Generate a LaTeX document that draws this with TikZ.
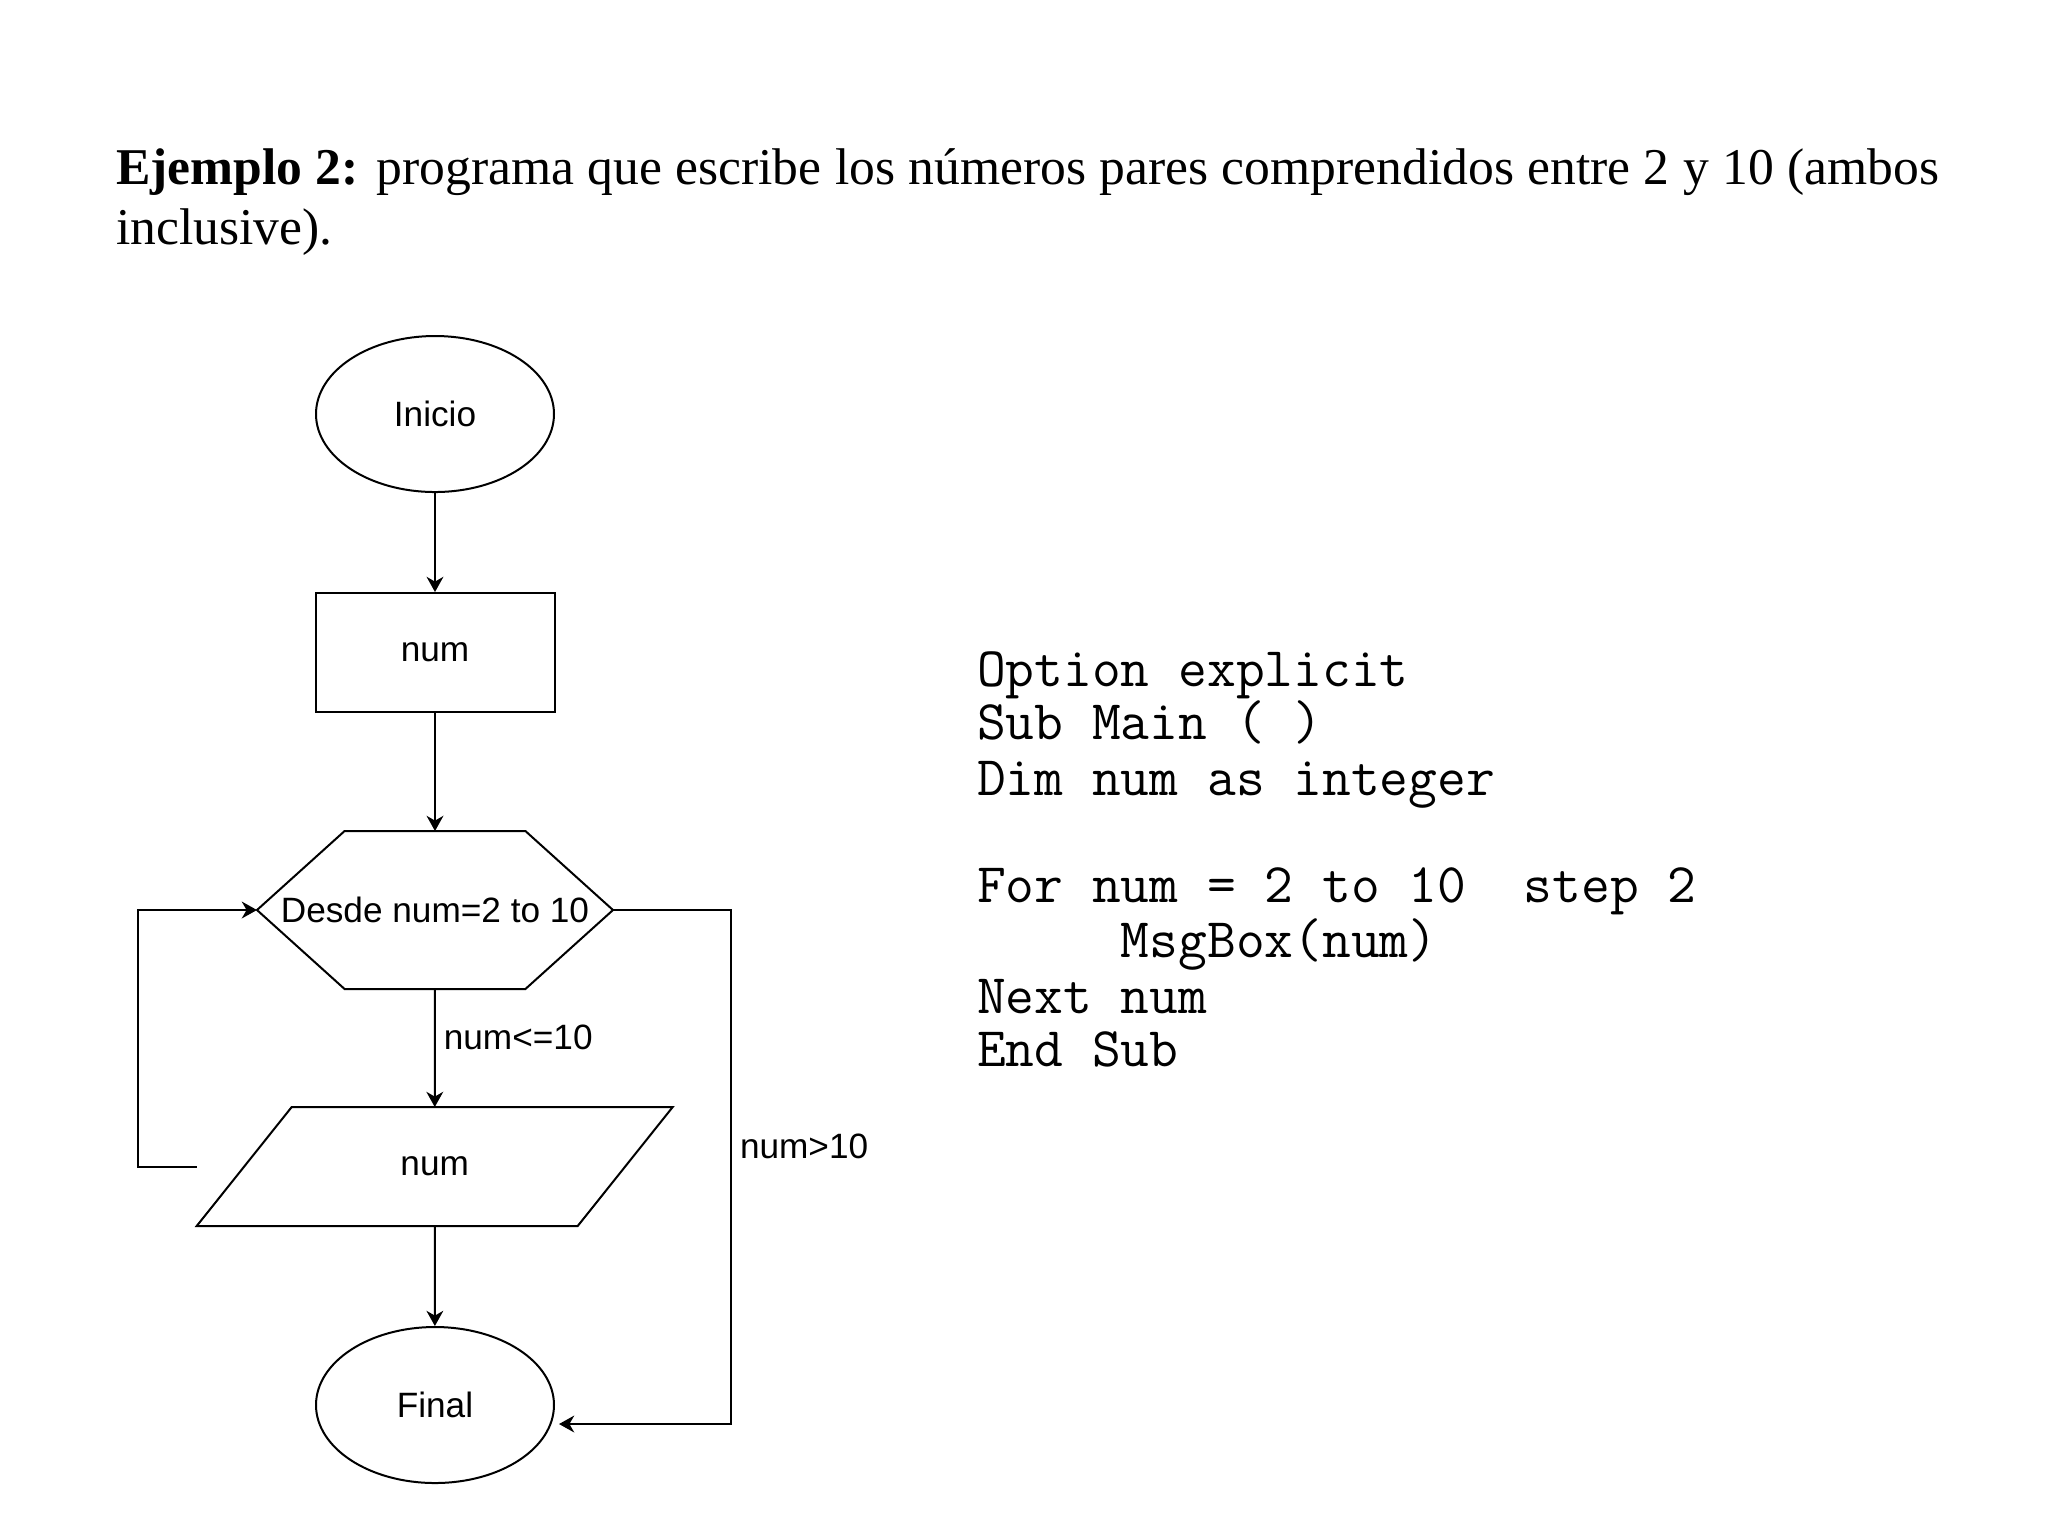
\documentclass[tikz,border=0pt]{standalone}
\usepackage{fontspec}
\setmainfont{Liberation Serif}
\newfontfamily\diagrama{Liberation Sans}
\usetikzlibrary{shapes.geometric,arrows.meta,calc}

\tikzset{
  terminal/.style={draw, ellipse, minimum width=59.5pt, minimum height=39pt, inner sep=0pt},
  proceso/.style={draw, rectangle, minimum width=59.75pt, minimum height=29.75pt, inner sep=0pt},
  bucle/.style={rectangle, minimum width=89pt, minimum height=39.5pt, inner sep=0pt, outer sep=0pt},
  salida/.style={rectangle, minimum width=119pt, minimum height=29.75pt, inner sep=0pt, outer sep=0pt},
  flecha/.style={-{Stealth[length=3.8pt,width=4.2pt,inset=1.2pt]}},
  etiqueta/.style={inner sep=2pt},
  linea/.style={anchor=base west, inner sep=0pt, font=\ttfamily\fontsize{13.97}{15}\selectfont}
}

\begin{document}
\begin{tikzpicture}[x=0.25pt, y=-0.25pt, line width=0.5pt,
    every node/.append style={font=\diagrama\fontsize{8.8}{10}\selectfont}]
  \useasboundingbox (0,0) rectangle (2048,1536);

  % Enunciado
  \node[anchor=base west, inner sep=0pt, font=\fontsize{12.9}{15}\selectfont] (titulo1) at (115,184)
    {\makebox[455.75pt][s]{\textbf{Ejemplo 2:} programa que escribe los números pares comprendidos entre 2 y 10 (ambos}};
  \node[anchor=base west, inner sep=0pt, font=\fontsize{12.9}{15}\selectfont] (titulo2) at (115,244) {inclusive).};

  % Diagrama de flujo
  \node[terminal] (inicio) at (435,414) {Inicio};
  \node[proceso] (leer) at (435,652.5) {num};
  \node[bucle] (desde) at (435,910) {Desde num=2 to 10};
  \node[salida] (escribir) at (434.7,1166.5) {num};
  \node[terminal] (fin) at (435,1405) {Final};

  % Hexágono del bucle y paralelogramo de salida
  \draw ([xshift=21.9pt]desde.north west) -- ([xshift=-21.9pt]desde.north east) -- (desde.east)
    -- ([xshift=-21.9pt]desde.south east) -- ([xshift=21.9pt]desde.south west) -- (desde.west) -- cycle;
  \draw ([xshift=23.75pt]escribir.north west) -- (escribir.north east)
    -- ([xshift=-23.75pt]escribir.south east) -- (escribir.south west) -- cycle;

  \draw[flecha] (inicio) -- (leer);
  \draw[flecha] (leer) -- (desde);
  \draw[flecha] (desde) -- (escribir) node[etiqueta, pos=0.41, right] {num<=10};
  \draw[flecha] (escribir) -- (fin);

  % Vuelta al bucle
  \coordinate (lazo) at (escribir.west);
  \draw[flecha] (lazo) -- ++(-59,0) |- (desde.west);

  % Salida del bucle
  \draw[flecha] (desde.east) -- ++(118,0) |- ($(fin.east)+(4,19)$)
    node[etiqueta, pos=0.23, right] {num>10};

  % Código
  \foreach \n/\y/\texto in {1/686/{Option explicit}, 2/739/{Sub Main ( )}, 3/795/{Dim num as integer},
      4/902/{For num = 2 to 10~ step 2}, 5/957/{\phantom{xxxxx}MsgBox(num)},
      6/1013/{Next num}, 7/1066/{End Sub}}
    \node[linea] (cod\n) at (976,\y) {\texto};
\end{tikzpicture}
\end{document}
